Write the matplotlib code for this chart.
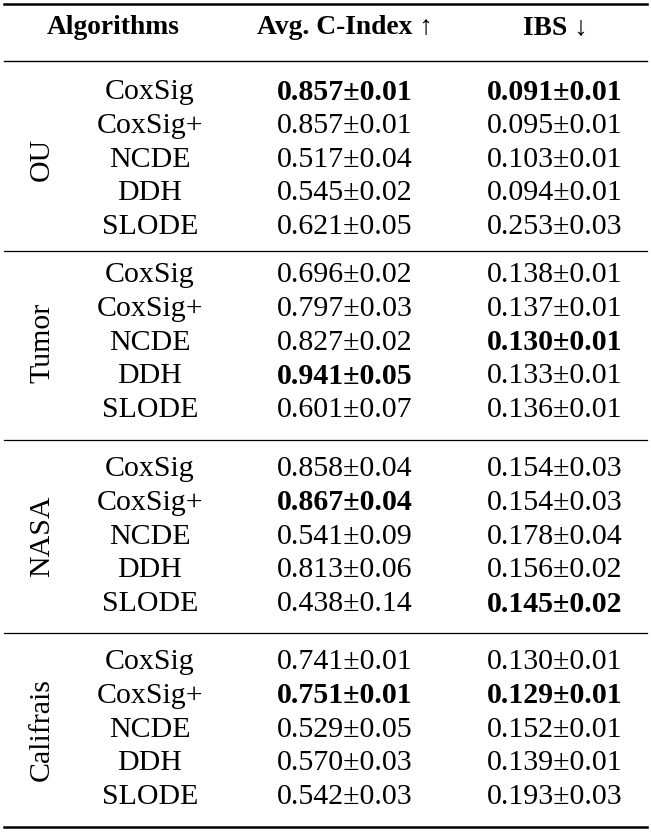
import matplotlib
matplotlib.use("Agg")
import matplotlib.pyplot as plt

groups = ["OU", "Tumor", "NASA", "Califrais"]
algorithms = ["CoxSig", "CoxSig+", "NCDE", "DDH", "SLODE"]
headers = ["Algorithms", "Avg. C-Index \u2191", "IBS \u2193"]
cindex = [
    ["0.857\u00b10.01", "0.857\u00b10.01", "0.517\u00b10.04", "0.545\u00b10.02", "0.621\u00b10.05"],
    ["0.696\u00b10.02", "0.797\u00b10.03", "0.827\u00b10.02", "0.941\u00b10.05", "0.601\u00b10.07"],
    ["0.858\u00b10.04", "0.867\u00b10.04", "0.541\u00b10.09", "0.813\u00b10.06", "0.438\u00b10.14"],
    ["0.741\u00b10.01", "0.751\u00b10.01", "0.529\u00b10.05", "0.570\u00b10.03", "0.542\u00b10.03"],
]
ibs = [
    ["0.091\u00b10.01", "0.095\u00b10.01", "0.103\u00b10.01", "0.094\u00b10.01", "0.253\u00b10.03"],
    ["0.138\u00b10.01", "0.137\u00b10.01", "0.130\u00b10.01", "0.133\u00b10.01", "0.136\u00b10.01"],
    ["0.154\u00b10.03", "0.154\u00b10.03", "0.178\u00b10.04", "0.156\u00b10.02", "0.145\u00b10.02"],
    ["0.130\u00b10.01", "0.129\u00b10.01", "0.152\u00b10.01", "0.139\u00b10.01", "0.193\u00b10.03"],
]
bold_c = [0, 3, 1, 1]
bold_i = [0, 2, 4, 1]

fig = plt.figure(figsize=(6.51, 8.32), dpi=100)
ax = fig.add_axes([0, 0, 1, 1])
ax.set_xlim(0, 651)
ax.set_ylim(832, 0)
ax.axis("off")
font = ["Liberation Serif", "DejaVu Serif"]
fs = 21.5

xg, xa, xc, xi = 42, 150, 345, 555
ax.text(113, 28, headers[0], ha="center", va="center", fontsize=fs * 0.92, fontweight="bold", family=font)
ax.text(xc, 28, headers[1], ha="center", va="center", fontsize=fs * 0.92, fontweight="bold", family=font)
ax.text(xi, 28, headers[2], ha="center", va="center", fontsize=fs * 0.92, fontweight="bold", family=font)

ax.plot([4, 647], [4, 4], color="black", lw=1.8)
ax.plot([4, 647], [61, 61], color="black", lw=1.0)

starts = [92, 275, 469, 662]
step = 33.8
for g, name in enumerate(groups):
    y0 = starts[g]
    ys = [y0 + k * step for k in range(5)]
    ax.text(xg, (ys[0] + ys[-1]) / 2, name, ha="center", va="center", rotation=90,
            fontsize=fs, family=font)
    for k, alg in enumerate(algorithms):
        ax.text(xa, ys[k], alg, ha="center", va="center", fontsize=fs, family=font)
        ax.text(xc, ys[k], cindex[g][k], ha="center", va="center", fontsize=fs, family=font,
                fontweight="bold" if bold_c[g] == k else "normal")
        ax.text(xi, ys[k], ibs[g][k], ha="center", va="center", fontsize=fs, family=font,
                fontweight="bold" if bold_i[g] == k else "normal")
    if g < 3:
        yl = (ys[-1] + starts[g + 1]) / 2
        ax.plot([4, 647], [yl, yl], color="black", lw=0.9)

ax.plot([4, 647], [827, 827], color="black", lw=1.8)
fig.savefig("out.png", dpi=100)
